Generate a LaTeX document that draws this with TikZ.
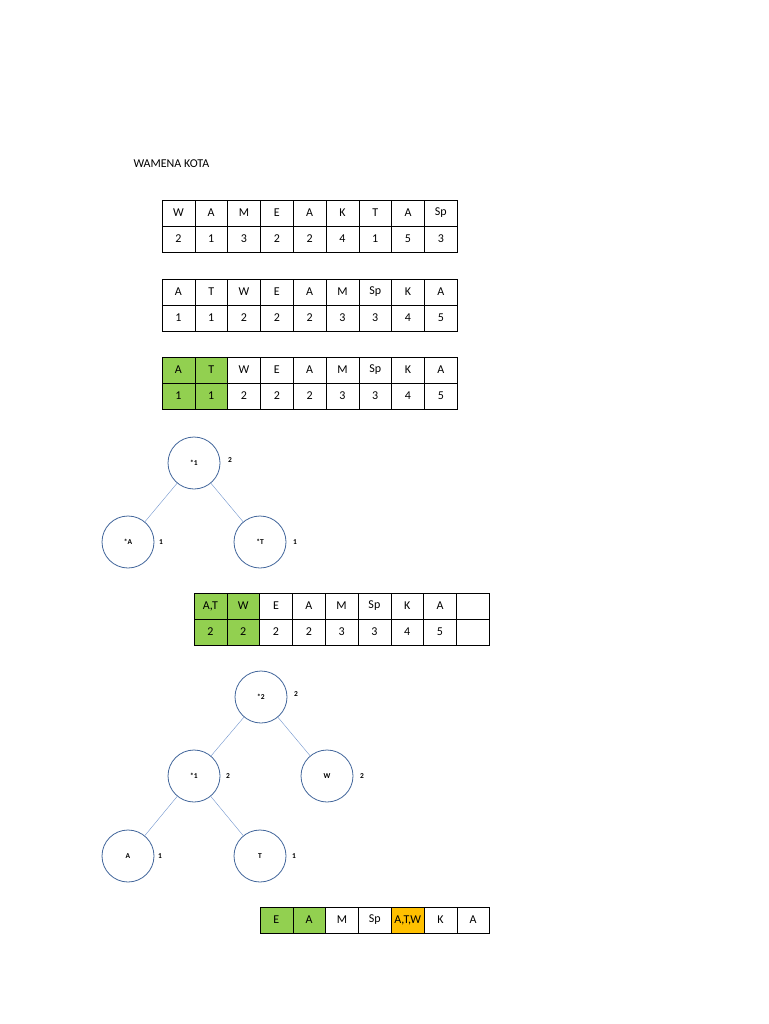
\documentclass[tikz,border=0pt]{standalone}
\usepackage{fontspec}
\setmainfont{Carlito}
\definecolor{cellgreen}{HTML}{92D050}
\definecolor{cellorange}{HTML}{FFC000}
\definecolor{ringblue}{HTML}{41659A}
\definecolor{edgeblue}{HTML}{6F93CC}
\tikzset{
   cell/.style={draw=black, minimum width=32.8pt, minimum height=26pt, inner sep=0pt, font=\fontsize{12}{12}\selectfont},
   ring/.style={circle, draw=ringblue, thick, minimum size=52pt, inner sep=0pt, font=\bfseries\fontsize{7.5}{8}\selectfont},
   weight/.style={font=\bfseries\fontsize{7.5}{8}\selectfont},
   link/.style={draw=edgeblue}
}
\begin{document}
\begin{tikzpicture}[x=1pt,y=-1pt]
\useasboundingbox (0,0) rectangle (768,1024);
\node[anchor=west,font=\fontsize{12}{12}\selectfont] (title) at (130,164) {WAMENA KOTA};
% table 1
\foreach \t [count=\i] in {W,A,M,E,A,K,T,A,Sp}
  \node[cell] (a\i) at (162+32.8*\i-16.4,213) {\t};
\foreach \t [count=\i] in {2,1,3,2,2,4,1,5,3}
  \node[cell] (b\i) at (162+32.8*\i-16.4,239) {\t};
% table 2
\foreach \t [count=\i] in {A,T,W,E,A,M,Sp,K,A}
  \node[cell] (c\i) at (162+32.8*\i-16.4,292) {\t};
\foreach \t [count=\i] in {1,1,2,2,2,3,3,4,5}
  \node[cell] (d\i) at (162+32.8*\i-16.4,318) {\t};
% table 3
\foreach \t/\f [count=\i] in {A/cellgreen,T/cellgreen,W/white,E/white,A/white,M/white,Sp/white,K/white,A/white}
  \node[cell,fill=\f] (e\i) at (162+32.8*\i-16.4,370) {\t};
\foreach \t/\f [count=\i] in {1/cellgreen,1/cellgreen,2/white,2/white,2/white,3/white,3/white,4/white,5/white}
  \node[cell,fill=\f] (f\i) at (162+32.8*\i-16.4,396) {\t};
% tree 1
\node[ring] (n1) at (194,463) {*1};
\node[ring] (nA) at (128,542) {*A};
\node[ring] (nT) at (260,542) {*T};
\node[weight] (w1) at (230,460) {2};
\node[weight] (wA) at (161,542) {1};
\node[weight] (wT) at (295,542) {1};
\path[link] (n1) -- (nA) (n1) -- (nT);
% table 4
\foreach \t/\f [count=\i] in {{A,T}/cellgreen,W/cellgreen,E/white,A/white,M/white,Sp/white,K/white,A/white,{}/white}
  \node[cell,fill=\f] (g\i) at (194+32.8*\i-16.4,606) {\t};
\foreach \t/\f [count=\i] in {2/cellgreen,2/cellgreen,2/white,2/white,3/white,3/white,4/white,5/white,{}/white}
  \node[cell,fill=\f] (h\i) at (194+32.8*\i-16.4,632) {\t};
% tree 2
\node[ring] (m2) at (261,697) {*2};
\node[ring] (m1) at (194,776) {*1};
\node[ring] (mW) at (327,776) {W};
\node[ring] (mA) at (128,856) {A};
\node[ring] (mT) at (260,856) {T};
\node[weight] (v2) at (296,694) {2};
\node[weight] (v1) at (228,776) {2};
\node[weight] (vW) at (362,776) {2};
\node[weight] (vA) at (160,856) {1};
\node[weight] (vT) at (294,856) {1};
\path[link] (m2) -- (m1) (m2) -- (mW) (m1) -- (mA) (m1) -- (mT);
% table 5
\foreach \t/\f [count=\i] in {E/cellgreen,A/cellgreen,M/white,Sp/white,{A,T,W}/cellorange,K/white,A/white}
  \node[cell,fill=\f] (k\i) at (260+32.8*\i-16.4,920) {\t};
\end{tikzpicture}
\end{document}
